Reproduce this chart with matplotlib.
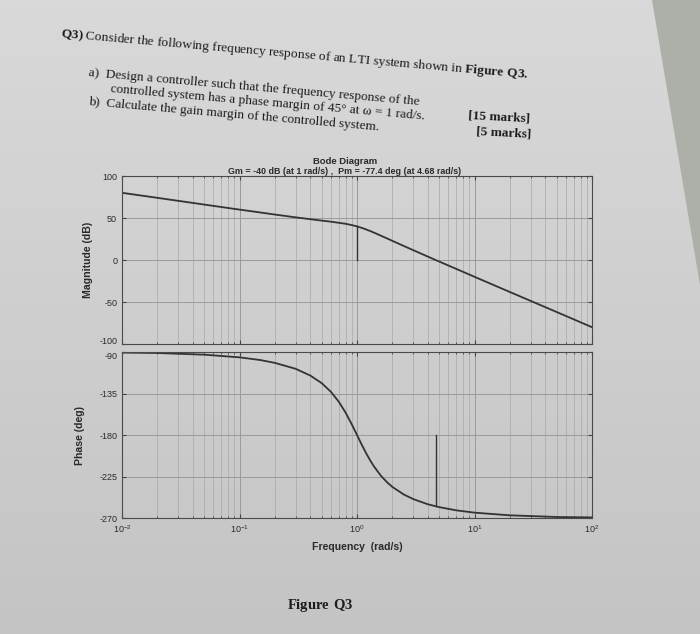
import numpy as np
import matplotlib
matplotlib.use('Agg')
import matplotlib.pyplot as plt
from matplotlib.patches import Polygon
from matplotlib.transforms import ScaledTranslation

plt.rcParams['mathtext.fontset'] = 'custom'
plt.rcParams['mathtext.rm'] = 'Liberation Serif'
plt.rcParams['mathtext.bf'] = 'Liberation Serif:bold'
plt.rcParams['axes.unicode_minus'] = False

# frequency response
freq = [0.01, 0.02, 0.05, 0.1, 0.15, 0.2, 0.3, 0.4, 0.5, 0.6, 0.7, 0.8, 0.9, 1.0,
        1.1, 1.2, 1.3, 1.4, 1.6, 1.8, 2.0, 2.5, 3.0, 4.0, 5.0, 7.0, 10, 20, 50, 100]
mag_db = [80.0, 74.0, 66.0, 60.0, 56.6, 54.1, 50.8, 48.6, 46.9, 45.6, 44.3, 43.1, 41.6, 40.0,
          38.2, 36.3, 34.4, 32.5, 28.9, 25.7, 22.8, 16.7, 11.8, 4.1, -1.8, -10.6, -20.0,
          -38.1, -61.9, -80.0]
phase_deg = [-90.6, -91.1, -92.9, -95.8, -98.7, -101.8, -108.2, -115.5, -123.7, -133.2,
             -143.9, -155.8, -168.1, -180.0, -190.8, -200.1, -207.9, -214.4, -224.3, -231.2,
             -236.3, -244.5, -249.4, -255.1, -258.2, -261.7, -264.2, -267.1, -268.9, -269.4]

# stability margins
gm_freq, gm_db = 1.0, 40.0
pm_freq, pm_phase = 4.68, -257.4

mag_ticks = [-100, -50, 0, 50, 100]
phase_ticks = [-270, -225, -180, -135, -90]

W, H = 700, 634
ink = '#333333'
gridc = '#a8a8a8'


def px(x, y):
    return x / W, 1 - y / H


def style_axes(ax):
    ax.set_facecolor('none')
    ax.set_xscale('log')
    ax.set_xlim(0.01, 100)
    ax.grid(True, which='major', color='#9a9a9a', lw=0.7)
    ax.grid(True, which='minor', axis='x', color=gridc, lw=0.5)
    ax.tick_params(which='both', direction='in', top=True, right=True,
                   labelsize=6.5, colors='#444444', labelcolor='#2a2a2a', length=3)
    ax.tick_params(which='minor', length=1.5)
    for s in ax.spines.values():
        s.set_color('#4a4a4a')
        s.set_linewidth(0.8)


fig = plt.figure(figsize=(7, 6.34), dpi=100)

# paper background
bg = fig.add_axes([0, 0, 1, 1], zorder=-5)
grad = np.linspace(0, 1, 256)[:, None]
bg.imshow(grad, aspect='auto', cmap=matplotlib.colors.LinearSegmentedColormap.from_list(
    'paper', ['#d9d9d9', '#c4c4c4']), extent=[0, 1, 0, 1])
bg.add_patch(Polygon([px(652, 0), px(700, 0), px(700, 285)], closed=True,
                     facecolor='#adafa9', edgecolor='none', transform=bg.transAxes))
bg.set_xlim(0, 1)
bg.set_ylim(0, 1)
bg.axis('off')

# question text
rot = -5
tkw = dict(rotation=rot, rotation_mode='anchor', ha='left', va='baseline',
           family='Liberation Serif', color='#1c1c1c', fontsize=9.6)
fig.text(*px(60, 37), r'$\mathbf{Q3)}$ Consider the following frequency response of an LTI '
         r'system shown in $\mathbf{Figure\ Q3.}$', **tkw)
fig.text(*px(88, 76), 'a)  Design a controller such that the frequency response of the', **tkw)
fig.text(*px(110, 92), 'controlled system has a phase margin of 45\u00b0 at \u03c9 = 1 rad/s.', **tkw)
fig.text(*px(88, 105), 'b)  Calculate the gain margin of the controlled system.', **tkw)
mkw = dict(tkw, rotation=-3, fontweight='bold')
fig.text(*px(468, 119), '[15 marks]', **mkw)
fig.text(*px(476, 135), '[5 marks]', **mkw)

# Bode diagram
left, right = 122, 592
ax_mag = fig.add_axes([left / W, 1 - 344 / H, (right - left) / W, (344 - 176) / H])
ax_ph = fig.add_axes([left / W, 1 - 518 / H, (right - left) / W, (518 - 352) / H],
                     sharex=ax_mag)
style_axes(ax_mag)
style_axes(ax_ph)

ax_mag.plot(freq, mag_db, color=ink, lw=1.3)
ax_mag.plot([gm_freq, gm_freq], [0, gm_db], color=ink, lw=1.0)
ax_mag.set_ylim(-100, 100)
ax_mag.set_yticks(mag_ticks)
ax_mag.tick_params(labelbottom=False)
ax_mag.set_ylabel('Magnitude (dB)', fontsize=7.6, fontweight='bold',
                  family='Liberation Sans', color='#2a2a2a')
ax_mag.yaxis.set_label_coords(-0.062, 0.5)

ax_ph.plot(freq, phase_deg, color=ink, lw=1.3)
ax_ph.plot([pm_freq, pm_freq], [-180, pm_phase], color=ink, lw=1.0)
ax_ph.set_ylim(-270, -90)
ax_ph.set_yticks(phase_ticks)
ax_ph.set_ylabel('Phase (deg)', fontsize=7.6, fontweight='bold',
                 family='Liberation Sans', color='#2a2a2a')
ax_ph.yaxis.set_label_coords(-0.078, 0.5)
ax_ph.set_xlabel('Frequency  (rad/s)', fontsize=7.6, fontweight='bold',
                 family='Liberation Sans', color='#2a2a2a', labelpad=5)

for ax in (ax_mag, ax_ph):
    for lab in ax.get_yticklabels() + ax.get_xticklabels():
        lab.set_family('Liberation Sans')

# keep the -100 / -90 labels from sitting on top of each other
ax_mag.get_yticklabels()[0].set_transform(
    ax_mag.get_yticklabels()[0].get_transform() + ScaledTranslation(0, 3 / 100, fig.dpi_scale_trans))
ax_ph.get_yticklabels()[-1].set_transform(
    ax_ph.get_yticklabels()[-1].get_transform() + ScaledTranslation(0, -3 / 100, fig.dpi_scale_trans))

fig.text(*px(345, 161), 'Bode Diagram', ha='center', va='center', fontsize=6.8,
         fontweight='bold', family='Liberation Sans', color='#2a2a2a')
fig.text(*px(345, 171), 'Gm = -40 dB (at 1 rad/s) ,  Pm = -77.4 deg (at 4.68 rad/s)',
         ha='center', va='center', fontsize=6.4, fontweight='bold',
         family='Liberation Sans', color='#2a2a2a')

fig.text(*px(320, 606), r'$\mathbf{Figure\ Q3}$', ha='center', va='center',
         fontsize=10.5, color='#1c1c1c')

fig.savefig('out.png', dpi=100, facecolor='#d0d0d0')
